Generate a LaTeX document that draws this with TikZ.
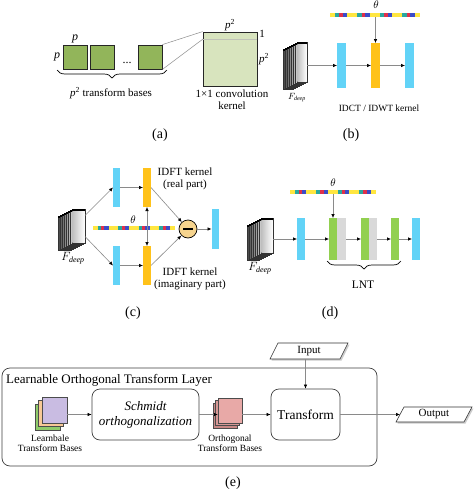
\documentclass[tikz,border=0pt]{standalone}
\usepackage{fontspec}
\setmainfont{Liberation Serif}
\usetikzlibrary{arrows.meta,decorations.pathreplacing,calc}
\definecolor{sqgreen}{HTML}{92B55A}
\definecolor{kgreen}{HTML}{D8E4BE}
\definecolor{cyanb}{HTML}{62D3F7}
\definecolor{orangeb}{HTML}{FFC21A}
\definecolor{greenb}{HTML}{92D050}
\definecolor{grayb}{HTML}{D9D9D9}
\definecolor{stripy}{HTML}{FFE640}
\definecolor{stript}{HTML}{2AA7A0}
\definecolor{stripr}{HTML}{E0304A}
\definecolor{stripb}{HTML}{3B4CC8}
\definecolor{minusc}{HTML}{F6D48E}
\definecolor{lpurple}{HTML}{C9BCE2}
\definecolor{lorange}{HTML}{F7C995}
\definecolor{lgreen}{HTML}{8FCB6A}
\definecolor{pinka}{HTML}{E8A9A7}
\definecolor{pinkb}{HTML}{D79896}
\definecolor{pinkc}{HTML}{C98886}
\definecolor{linec}{HTML}{8A8A8A}
\newcommand\fsz[2]{\fontsize{#1}{#2}\selectfont}
% stack of feature slices: x0, ytop, W, H
\newcommand\fdeepstack[4]{%
  \pgfmathsetmacro\slw{#3-14}%
  \pgfmathsetmacro\slh{#4-7}%
  \foreach \i in {0,...,7}{%
    \pgfmathsetmacro\pc{int(70-8*\i)}%
    \filldraw[fill=black!\pc, draw=black!80, line width=0.3pt] ({#1+2*\i},{#2+7-\i}) rectangle ++(\slw,\slh);
    \fill[black] ({#1+2*\i},{#2+7-\i}) rectangle ++(\slw,2.4);
  }%
  \shade[left color=black!25, right color=white] ({#1+14.3},{#2+2.4}) rectangle ({#1+14+\slw-0.3},{#2+\slh-0.3});
}
% coloured parameter strip on a named node of length #2
\newcommand\paramstrip[2]{%
  \pgfmathsetmacro\per{#2/4}%
  \foreach \k in {0,...,3}{%
    \fill[stript] ($(#1.south west)+({\k*\per+0.22*\per},0)$) rectangle ++({0.18*\per},-4);
    \fill[stripr] ($(#1.south west)+({\k*\per+0.40*\per},0)$) rectangle ++({0.16*\per},-4);
    \fill[stripb] ($(#1.south west)+({\k*\per+0.56*\per},0)$) rectangle ++({0.2*\per},-4);
  }%
}
\begin{document}
\begin{tikzpicture}[x=1pt,y=-1pt,
  conn/.style={draw=linec, line width=0.6pt, -{Latex[black,length=4pt,width=3.5pt]}},
  conntwo/.style={draw=linec, line width=0.6pt, {Latex[black,length=4pt,width=3.5pt]}-{Latex[black,length=4pt,width=3.5pt]}},
  thinl/.style={draw=black!45, line width=0.5pt},
  barnode/.style={inner sep=0pt, outer sep=0pt, draw=none},
  stripnode/.style={inner sep=0pt, outer sep=0pt, fill=stripy, minimum height=4pt},
  sqb/.style={draw=black!85, line width=0.8pt, fill=sqgreen, minimum width=24pt, minimum height=24pt, inner sep=0pt},
  lbl/.style={inner sep=0pt, align=center},
  bracey/.style={draw=black, line width=0.7pt, decorate, decoration={brace, mirror, amplitude=8pt}},
  rbox/.style={draw=black!75, line width=0.7pt, rounded corners=8pt, inner sep=0pt, align=center},
  ghost/.style={inner sep=0pt, outer sep=0pt}
]
\useasboundingbox (0,0) rectangle (474,493);
\fill[white] (0,0) rectangle (474,493);

% ---------------- (a)
\node[sqb] (s1) at (75.5,57) {};
\node[sqb] (s2) at (102.5,57) {};
\node[sqb] (s3) at (150,57) {};
\node[lbl, font={\fsz{12}{14}}] (dots) at (127,63) {...};
\node[lbl, font={\fsz{12}{14}}] (pl) at (57,57) {\textit{p}};
\node[lbl, font={\fsz{12}{14}}] (pt) at (75,39) {\textit{p}};
\draw[bracey] (57,70) -- (167,70);
\node[lbl, font={\fsz{11}{13}}] (tb) at (111,93) {\textit{p}\textsuperscript{2} transform bases};
\node[draw=black!85, line width=0.8pt, fill=kgreen, minimum width=54pt, minimum height=54pt, inner sep=0pt] (K) at (230,59) {};
\coordinate (kl) at (203,39);
\draw[draw=white!60!kgreen!80!black, line width=0.5pt] (kl) -- (257,39);
\draw[thinl] (s3.north east) -- (K.north west);
\draw[thinl] (s3.south east) -- (kl);
\node[lbl, font={\fsz{11}{13}}] (kp1) at (230,25) {\textit{p}\textsuperscript{2}};
\node[lbl, font={\fsz{11}{13}}] (k1) at (262,34) {1};
\node[lbl, font={\fsz{11}{13}}] (kp2) at (264,59) {\textit{p}\textsuperscript{2}};
\node[lbl, font={\fsz{11}{12.5}}] (kt) at (232,99.5) {1×1 convolution\\kernel};
\node[lbl, font={\fsz{14}{16}}] (la) at (160,135) {(a)};

% ---------------- (b)
\fdeepstack{283}{42}{24}{47}
\node[ghost, minimum width=24pt, minimum height=47pt] (st1) at (295,65.5) {};
\node[lbl, font={\fsz{9}{10}}] (fb) at (297,98) {$F_{\mathit{deep}}$};
\node[barnode, fill=cyanb, minimum width=9pt, minimum height=45pt] (b1) at (341.5,65.5) {};
\node[barnode, fill=orangeb, minimum width=9pt, minimum height=45pt] (bo) at (375.5,65.5) {};
\node[barnode, fill=cyanb, minimum width=9pt, minimum height=45pt] (b2) at (409.5,65.5) {};
\node[stripnode, minimum width=90pt] (sb) at (375,15) {};
\paramstrip{sb}{90}
\node[lbl, font={\fsz{11}{12}}] (thb) at (376,5) {$\theta$};
\draw[conn] (bo.north |- sb.south) -- (bo.north);
\draw[conn] (st1.east) -- (b1.west);
\draw[conn] (b1.east) -- (bo.west);
\draw[conn] (bo.east) -- (b2.west);
\node[lbl, font={\fsz{9.5}{11}}] (bt) at (379,108) {IDCT / IDWT kernel};
\node[lbl, font={\fsz{14}{16}}] (lb) at (351,135) {(b)};

% ---------------- (c)
\fdeepstack{58}{209}{27}{41}
\node[ghost, minimum width=27pt, minimum height=41pt] (stc) at (71.5,229.5) {};
\node[lbl, font={\fsz{12}{13}}] (fc) at (73,258) {$F_{\mathit{deep}}$};
\node[barnode, fill=cyanb, minimum width=7pt, minimum height=39pt] (ct) at (116.5,187.5) {};
\node[barnode, fill=cyanb, minimum width=7pt, minimum height=39pt] (cbm) at (116.5,265.5) {};
\node[barnode, fill=orangeb, minimum width=8pt, minimum height=39pt] (ot) at (147,187.5) {};
\node[barnode, fill=orangeb, minimum width=8pt, minimum height=39pt] (obm) at (147,265.5) {};
\node[stripnode, minimum width=82pt] (sc) at (134,228) {};
\paramstrip{sc}{82}
\node[lbl, font={\fsz{11}{12}}] (thc) at (133,220) {$\theta$};
\draw[conntwo] (ot.south) -- (obm.north);
\draw[conn] ($(stc.east)+(0,-14)$) -- (ct.west);
\draw[conn] ($(stc.east)+(0,7)$) -- (cbm.west);
\draw[conn] (ct.east) -- (ot.west);
\draw[conn] (cbm.east) -- (obm.west);
\node[draw=black, line width=0.7pt, fill=minusc, circle, minimum size=18pt, inner sep=0pt] (mc) at (188,229) {};
\draw[black, line width=1.6pt] ($(mc.center)+(-5,0)$) -- ($(mc.center)+(5,0)$);
\node[barnode, fill=cyanb, minimum width=7pt, minimum height=40pt] (cr) at (215,229) {};
\draw[conn] (ot.east) -- (mc);
\draw[conn] (obm.east) -- (mc);
\draw[conn] (mc.east) -- (cr.west);
\node[lbl, font={\fsz{11}{12.5}}] (ct1) at (185,179) {IDFT kernel\\(real part)};
\node[lbl, font={\fsz{11}{12.5}}] (ct2) at (190,279) {IDFT kernel\\(imaginary part)};
\node[lbl, font={\fsz{14}{16}}] (lc) at (133,313) {(c)};

% ---------------- (d)
\fdeepstack{247}{218}{26}{42}
\node[ghost, minimum width=26pt, minimum height=42pt] (std) at (260,239) {};
\node[lbl, font={\fsz{12}{13}}] (fd) at (260,268) {$F_{\mathit{deep}}$};
\node[stripnode, minimum width=86pt] (sd) at (333,192) {};
\paramstrip{sd}{86}
\node[lbl, font={\fsz{11}{12}}] (thd) at (333,183) {$\theta$};
\node[barnode, fill=cyanb, minimum width=8pt, minimum height=42pt] (d1) at (301,239) {};
\node[barnode, fill=greenb, minimum width=8pt, minimum height=42pt] (g1) at (333,239) {};
\node[barnode, fill=grayb, minimum width=9pt, minimum height=42pt] (q1) at (341.5,239) {};
\node[barnode, fill=greenb, minimum width=8pt, minimum height=42pt] (g2) at (365,239) {};
\node[barnode, fill=grayb, minimum width=8pt, minimum height=42pt] (q2) at (373,239) {};
\node[barnode, fill=greenb, minimum width=8pt, minimum height=42pt] (g3) at (395,239) {};
\node[barnode, fill=cyanb, minimum width=8pt, minimum height=42pt] (d2) at (416,239) {};
\draw[conn] (g1.north |- sd.south) -- (g1.north);
\draw[conn] (std.east) -- (d1.west);
\draw[conn] (d1.east) -- (g1.west);
\draw[conn] (q1.east) -- (g2.west);
\draw[conn] (q2.east) -- (g3.west);
\draw[conn] (g3.east) -- (d2.west);
\draw[bracey] (327,261) -- (401,261);
\node[lbl, font={\fsz{11.5}{13}}] (lnt) at (363,285) {LNT};
\node[lbl, font={\fsz{14}{16}}] (ld) at (330,313) {(d)};

% ---------------- (e)
\node[rbox, minimum width=375pt, minimum height=98pt] (outer) at (189.5,417) {};
\node[lbl, anchor=west, font={\fsz{13}{15}}] (ttl) at (6,380) {Learnable Orthogonal Transform Layer};
% learnable stack
\filldraw[fill=lgreen, draw=black!70, line width=0.5pt] (35,404) rectangle ++(25,26);
\filldraw[fill=lorange, draw=black!70, line width=0.5pt] (38.5,400.5) rectangle ++(25,26);
\node[draw=black!70, line width=0.5pt, fill=lpurple, minimum width=25pt, minimum height=26pt, inner sep=0pt] (lst) at (54.5,410) {};
\node[lbl, font={\fsz{9.5}{10.5}}] (lstt) at (50,443) {Learnbale\\Transform Bases};
\node[rbox, minimum width=107pt, minimum height=51pt, font={\fsz{13}{15}\itshape}] (sch) at (145.5,414.5) {Schmidt\\orthogonalization};
% orthogonal stack
\filldraw[fill=pinkc, draw=black!70, line width=0.5pt] (213,403) rectangle ++(24,25);
\filldraw[fill=pinkb, draw=black!70, line width=0.5pt] (215.5,400.5) rectangle ++(24,25);
\node[draw=black!70, line width=0.5pt, fill=pinka, minimum width=24pt, minimum height=25pt, inner sep=0pt] (ost) at (230,410.5) {};
\node[lbl, font={\fsz{9.5}{10.5}}] (ostt) at (230,443) {Orthogonal\\Transform Bases};
\node[rbox, minimum width=69pt, minimum height=51pt, font={\fsz{13.5}{15}}] (tr) at (305.5,414.5) {Transform};
% input / output
\node[ghost, minimum width=70pt, minimum height=16pt, font={\fsz{11}{12}}] (inp) at (309,351) {Input};
\fill[black!20] ($(inp.south west)+(-2.5,1.5)$) -- ($(inp.north west)+(5.5,1.5)$) -- ($(inp.north east)+(5.5,1.5)$) -- ($(inp.south east)+(-2.5,1.5)$) -- cycle;
\filldraw[fill=white, draw=black!80, line width=0.6pt] ($(inp.south west)+(-4,0)$) -- ($(inp.north west)+(4,0)$) -- ($(inp.north east)+(4,0)$) -- ($(inp.south east)+(-4,0)$) -- cycle;
\node[lbl, font={\fsz{11}{12}}] at (inp.center) {Input};
\node[ghost, minimum width=68pt, minimum height=15pt] (out) at (434,414.5) {};
\fill[black!20] ($(out.south west)+(-2.5,1.5)$) -- ($(out.north west)+(5.5,1.5)$) -- ($(out.north east)+(5.5,1.5)$) -- ($(out.south east)+(-2.5,1.5)$) -- cycle;
\filldraw[fill=white, draw=black!80, line width=0.6pt] ($(out.south west)+(-4,0)$) -- ($(out.north west)+(4,0)$) -- ($(out.north east)+(4,0)$) -- ($(out.south east)+(-4,0)$) -- cycle;
\node[lbl, font={\fsz{11}{12}}] at (out.center) {Output};
\draw[conn] (lst.east |- sch.west) -- (sch.west);
\draw[conn] (sch.east) -- (sch.east -| ost.west);
\draw[conn] (ost.east |- tr.west) -- (tr.west);
\draw[conn] (tr.north |- inp.south) -- (tr.north);
\draw[conn] (tr.east) -- (out.west);
\node[lbl, font={\fsz{14}{16}}] (le) at (233,483) {(e)};
\end{tikzpicture}
\end{document}
